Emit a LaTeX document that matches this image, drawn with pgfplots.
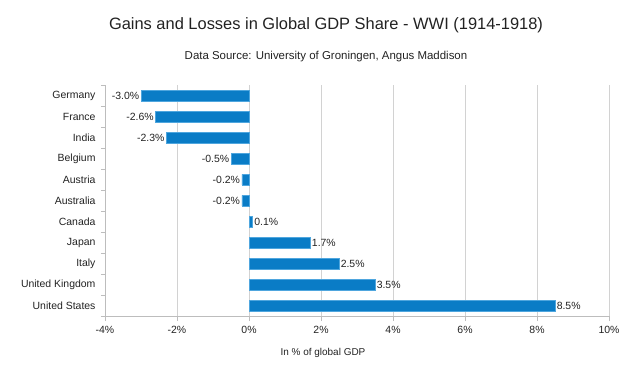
\documentclass[border=0pt]{standalone}
\usepackage{pgfplots}
\pgfplotsset{compat=1.18}
\usepackage{fontspec}
\setmainfont{Liberation Sans}
\definecolor{barblue}{HTML}{0A7CC6}
\definecolor{baredge}{HTML}{4FA6DE}
\definecolor{gridgray}{HTML}{D2D2D2}
\definecolor{axgray}{HTML}{BDBDBD}
\definecolor{txt}{HTML}{222222}
\begin{document}
\begin{tikzpicture}
\useasboundingbox (0bp,0bp) rectangle (640bp,377bp);
\begin{axis}[
  at={(105bp,61bp)}, anchor=south west,
  scale only axis, width=504bp, height=231bp,
  xmin=-4, xmax=10, ymin=-0.5, ymax=10.5, y dir=reverse,
  xbar, bar width=10.5bp, bar shift=0pt,
  /pgf/number format/assume math mode=true,
  xtick={-4,-2,...,10},
  xticklabel={\pgfmathprintnumber{\tick}\%},
  ytick={0,...,10},
  yticklabels={Germany,France,India,Belgium,Austria,Australia,Canada,Japan,Italy,United Kingdom,United States},
  minor ytick={-0.5,0.5,...,10.5},
  major y tick style={draw=none},
  minor tick length=4bp,
  major tick length=5bp,
  tick align=outside,
  tick style={axgray, line width=0.8bp},
  axis x line*=bottom, axis y line*=left,
  axis line style={axgray, line width=0.8bp, -},
  xmajorgrids, major grid style={gridgray, line width=0.8bp},
  ticklabel style={font=\fontsize{10.5}{12}\selectfont, text=txt},
  xticklabel style={yshift=-2bp},
  yticklabel style={xshift=-1bp},
  nodes near coords={\pgfmathprintnumber[fixed,fixed zerofill,precision=1]{\pgfplotspointmeta}\%},
  point meta=x,
  every node near coord/.append style={font=\fontsize{10.5}{12}\selectfont, text=txt, inner sep=1.5bp},
  clip=false,
]
\addplot[fill=barblue, draw=baredge, line width=0.5bp] coordinates {
  (-3.0,0) (-2.6,1) (-2.3,2) (-0.5,3) (-0.2,4) (-0.2,5)
  (0.1,6) (1.7,7) (2.5,8) (3.5,9) (8.5,10)
};
\end{axis}
\node[font=\fontsize{16.5}{19}\selectfont, text=txt] at (326bp,352bp) {Gains and Losses in Global GDP Share - WWI (1914-1918)};
\node[font=\fontsize{11.5}{14}\selectfont, text=txt] at (326bp,320bp) {Data Source: University of Groningen, Angus Maddison};
\node[font=\fontsize{10}{12}\selectfont, text=txt] at (323bp,24bp) {In \% of global GDP};
\end{tikzpicture}
\end{document}
